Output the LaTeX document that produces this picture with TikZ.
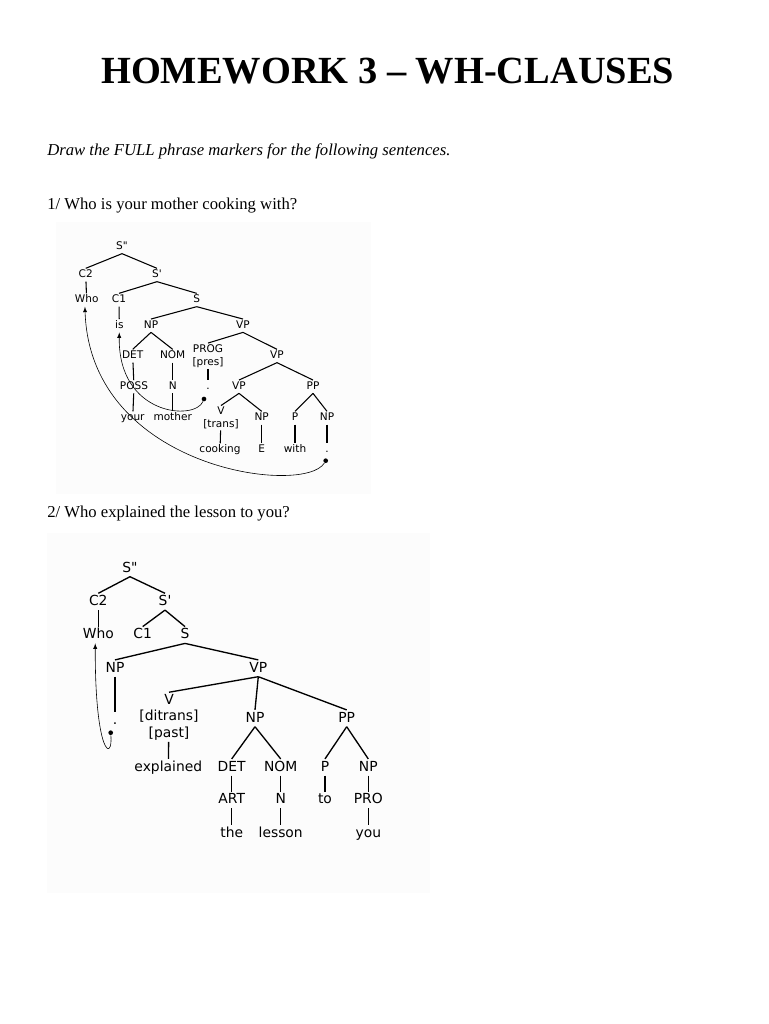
\documentclass[tikz,border=0pt]{standalone}
\usepackage{fontspec}
\setmainfont{Liberation Serif}
\newfontfamily\treefont{DejaVu Sans}

\begin{document}
\begin{tikzpicture}[x=0.75pt,y=-0.75pt,
    cat/.style={font=\treefont\fontsize{7.9}{9.5}\selectfont, inner sep=1pt, text height=6pt, text depth=1.6pt},
    catB/.style={font=\treefont\fontsize{10.4}{12.3}\selectfont, inner sep=1.2pt, text height=7.8pt, text depth=2pt},
    stack/.style={align=center, text height={}, text depth={}},
    branch/.style={line width=0.8pt},
    branchB/.style={line width=1pt},
    trace/.style={-latex, line width=0.45pt},
    gap/.style={circle, fill, inner sep=0pt, minimum size=3.5pt},
    shot/.style={fill=black!1.2}]
    \useasboundingbox (0,0) rectangle (768,1024);

    % page text
    \node[anchor=base west] (title) at (96.5,84) {\fontsize{28.8}{32}\selectfont\bfseries HOMEWORK 3 – WH-CLAUSES};
    \node[anchor=base west, inner sep=0pt] (task) at (47,155) {\fontsize{12.5}{15}\selectfont\itshape Draw the FULL phrase markers for the following sentences.};
    \node[anchor=base west, inner sep=0pt] (q1) at (47,209.5) {\fontsize{12.5}{15}\selectfont 1/ Who is your mother cooking with?};
    \node[anchor=base west, inner sep=0pt] (q2) at (47,517) {\fontsize{12.5}{15}\selectfont 2/ Who explained the lesson to you?};

    % tree 1
    \fill[shot] (56,222) rectangle (371,494);
    \node[cat] (sdd) at (122,247) {S"};
    \node[cat] (c2) at (85.7,275) {C2};
    \node[cat] (sd) at (157,275) {S'};
    \node[cat] (who) at (86.7,300) {Who};
    \node[cat] (c1) at (119,300) {C1};
    \node[cat] (s) at (196.7,300) {S};
    \node[cat] (is) at (119.3,325.7) {is};
    \node[cat] (np) at (151,325.7) {NP};
    \node[cat] (vp) at (243,325.7) {VP};
    \node[cat] (det) at (132.7,356) {DET};
    \node[cat] (nom) at (172.7,356) {NOM};
    \node[cat,stack] (prog) at (208,356) {PROG\\{[pres]}};
    \node[cat] (vpb) at (277,356) {VP};
    \node[cat] (poss) at (134,386.7) {POSS};
    \node[cat] (n) at (172.7,386.7) {N};
    \node[cat] (dota) at (208,386.7) {.};
    \node[gap] (gapa) at (204,399) {};
    \node[cat] (vpc) at (239,386.7) {VP};
    \node[cat] (pp) at (313,386.7) {PP};
    \node[cat] (your) at (132.7,418) {your};
    \node[cat] (mother) at (172.7,418) {mother};
    \node[cat,stack] (v) at (221,418) {V\\{[trans]}};
    \node[cat] (npe) at (261.7,418) {NP};
    \node[cat] (p) at (295,418) {P};
    \node[cat] (npw) at (327,418) {NP};
    \node[cat] (cooking) at (220,450) {cooking};
    \node[cat] (e) at (261.7,450) {E};
    \node[cat] (with) at (295,450) {with};
    \node[cat] (dotb) at (327,450) {.};
    \node[gap] (gapb) at (325.7,460.7) {};

    \path[branch] (sdd.south) edge (c2.north) edge (sd.north);
    \path[branch] (c2) edge (who);
    \path[branch] (sd.south) edge (c1.north) edge (s.north);
    \path[branch] (c1) edge (is);
    \path[branch] (s.south) edge (np.north) edge (vp.north);
    \path[branch] (np.south) edge (det.north) edge (nom.north);
    \path[branch] (vp.south) edge (prog.north) edge (vpb.north);
    \path[branch] (det) edge (poss) (poss) edge (your);
    \path[branch] (nom) edge (n) (n) edge (mother);
    \path[branch] (prog) edge (dota);
    \path[branch] (vpb.south) edge (vpc.north) edge (pp.north);
    \path[branch] (vpc.south) edge (v.north) edge (npe.north);
    \path[branch] (pp.south) edge (p.north) edge (npw.north);
    \path[branch] (v) edge (cooking);
    \path[branch] (npe) edge (e);
    \path[branch] (p) edge (with);
    \path[branch] (npw) edge (dotb);

    \draw[trace] (gapa) .. controls (195,421) and (118,416) .. (is.south);
    \draw[trace] (gapb) .. controls (305,496) and (90,470) .. (who.-105);

    % tree 2
    \fill[shot] (47,533) rectangle (430,893);
    \node[catB] (sdd2) at (130,568.3) {S"};
    \node[catB] (c2b) at (98.3,601.7) {C2};
    \node[catB] (sd2) at (165,601.7) {S'};
    \node[catB] (who2) at (98.3,635) {Who};
    \node[catB] (c1b) at (142.7,635) {C1};
    \node[catB] (s2) at (185,635) {S};
    \node[catB] (np2) at (115,668.3) {NP};
    \node[catB] (vp2) at (258.3,668.3) {VP};
    \node[catB] (dotc) at (115,720.7) {.};
    \node[gap] (gapc) at (110.7,732.7) {};
    \node[catB,stack] (v2) at (169,717) {V\\{[ditrans]}\\{[past]}};
    \node[catB] (npb) at (255,718.3) {NP};
    \node[catB] (ppb) at (346.7,718.3) {PP};
    \node[catB] (explained) at (168.3,767.3) {explained};
    \node[catB] (detb) at (231.7,767.3) {DET};
    \node[catB] (nomb) at (280.7,767.3) {NOM};
    \node[catB] (pb) at (325,767.3) {P};
    \node[catB] (npc) at (368.3,767.3) {NP};
    \node[catB] (art) at (231.7,800) {ART};
    \node[catB] (nb) at (280.7,800) {N};
    \node[catB] (to) at (325,800) {to};
    \node[catB] (pro) at (368.3,800) {PRO};
    \node[catB] (the) at (231.7,833.3) {the};
    \node[catB] (lesson) at (280.7,833.3) {lesson};
    \node[catB] (you) at (368.3,833.3) {you};

    \path[branchB] (sdd2.south) edge (c2b.north) edge (sd2.north);
    \path[branchB] (c2b) edge (who2);
    \path[branchB] (sd2.south) edge (c1b.north) edge (s2.north);
    \path[branchB] (s2.south) edge (np2.north) edge (vp2.north);
    \path[branchB] (np2) edge (dotc);
    \path[branchB] (vp2.south) edge (v2.north) edge (npb.north) edge (ppb.north);
    \path[branchB] (v2) edge (explained);
    \path[branchB] (npb.south) edge (detb.north) edge (nomb.north);
    \path[branchB] (ppb.south) edge (pb.north) edge (npc.north);
    \path[branchB] (detb) edge (art) (art) edge (the);
    \path[branchB] (nomb) edge (nb) (nb) edge (lesson);
    \path[branchB] (pb) edge (to);
    \path[branchB] (npc) edge (pro) (pro) edge (you);

    \draw[trace] (gapc) .. controls (113,762) and (95,756) .. (who2.-110);
\end{tikzpicture}
\end{document}
